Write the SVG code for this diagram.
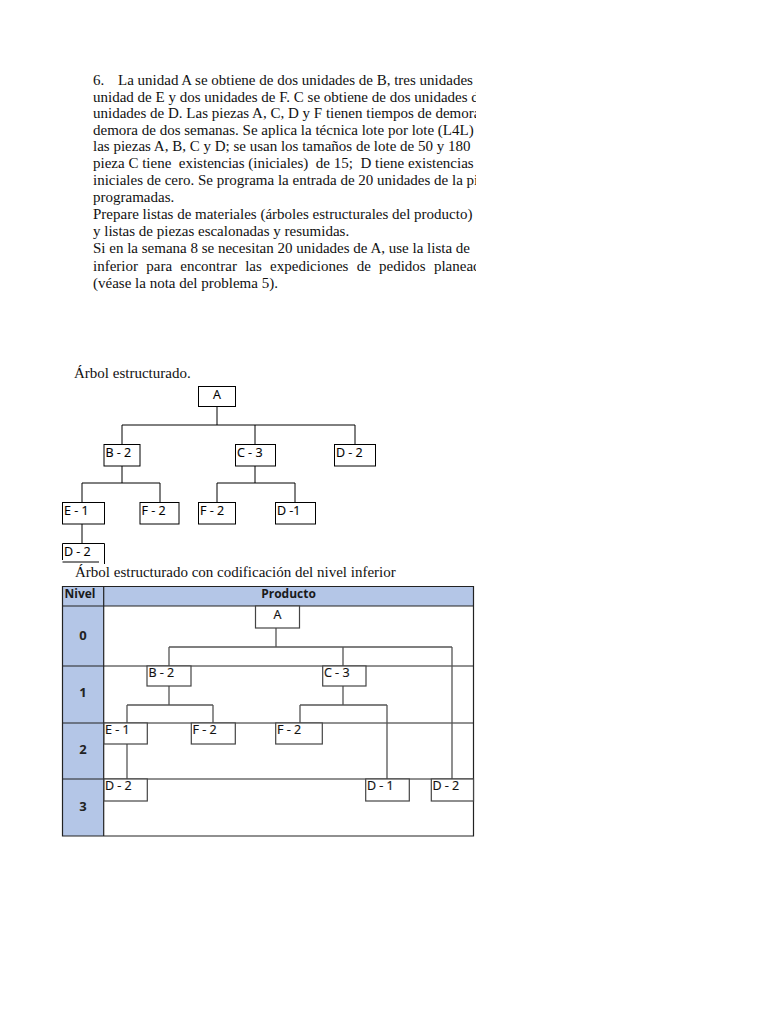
<svg xmlns="http://www.w3.org/2000/svg" width="768" height="1024" viewBox="0 0 768 1024">
<defs>
<clipPath id="clipText"><rect x="0" y="0" width="476" height="320"/></clipPath>
<style>
.p{font-family:"Liberation Serif","Times New Roman",serif;font-size:15px;fill:#111}
.lbl{font-family:"Open Sans","Liberation Sans",sans-serif;font-size:12.5px;fill:#000;stroke:#000;stroke-width:0.15}
.tl{font-family:"Open Sans","Liberation Sans",sans-serif;font-size:12.5px;fill:#111;stroke:#111;stroke-width:0.2}
.hd{font-family:"Open Sans","Liberation Sans",sans-serif;font-size:12px;font-weight:bold;fill:#1a1a1a}
.lv{font-family:"Open Sans","Liberation Sans",sans-serif;font-size:13px;font-weight:bold;fill:#222}
.box{fill:#fff;stroke:#000;stroke-width:1}
.tbox{fill:#fff;stroke:#444;stroke-width:1.2}
.ln{stroke:#000;stroke-width:1;fill:none}
.tln{stroke:#555;stroke-width:1.3;fill:none}
.grid{stroke:#222;stroke-width:1.2;fill:none}
</style>
</defs>
<rect width="768" height="1024" fill="#fff"/>

<g id="paragraph" clip-path="url(#clipText)">
<text class="p" x="93" y="85">6.</text>
<text class="p" x="118" y="85">La unidad A se obtiene de dos unidades de B, tres unidades de</text>
<text class="p" x="93" y="101.5">unidad de E y dos unidades de F. C se obtiene de dos unidades de</text>
<text class="p" x="93" y="118">unidades de D. Las piezas A, C, D y F tienen tiempos de demora</text>
<text class="p" x="93" y="134.5">demora de dos semanas. Se aplica la técnica lote por lote (L4L) a</text>
<text class="p" x="93" y="151">las piezas A, B, C y D; se usan los tamaños de lote de 50 y 180</text>
<text class="p" x="93" y="168" xml:space="preserve">pieza C tiene  existencias (iniciales)  de 15;  D tiene existencias</text>
<text class="p" x="93" y="185">iniciales de cero. Se programa la entrada de 20 unidades de la pieza</text>
<text class="p" x="93" y="201.5">programadas.</text>
<text class="p" x="93" y="219">Prepare listas de materiales (árboles estructurales del producto)</text>
<text class="p" x="93" y="236">y listas de piezas escalonadas y resumidas.</text>
<text class="p" x="93" y="253">Si en la semana 8 se necesitan 20 unidades de A, use la lista de</text>
<text class="p" x="93" y="270.5" word-spacing="4.5">inferior para encontrar las expediciones de pedidos planeadas</text>
<text class="p" x="93" y="288">(véase la nota del problema 5).</text>
</g>

<text class="p" x="74" y="378">Árbol estructurado.</text>

<g id="tree1-connectors">
<path class="ln" d="M217,407V425M122,425H355M122,425V444M255,425V444M355,425V444"/>
<path class="ln" d="M122,466V483M82,483H160M82,483V502M160,483V502"/>
<path class="ln" d="M255,466V483M217,483H295M217,483V502M295,483V502"/>
<path class="ln" d="M82,524V543"/>
</g>

<g id="t1-A"><rect class="box" x="198.5" y="386.5" width="37" height="20"/><text class="lbl" x="217" y="398.5" text-anchor="middle">A</text></g>
<g id="t1-B2"><rect class="box" x="104" y="444.5" width="36" height="21.5"/><text class="lbl" x="105.5" y="456.5">B - 2</text></g>
<g id="t1-C3"><rect class="box" x="235.5" y="444.5" width="40" height="21.5"/><text class="lbl" x="237" y="456.5">C - 3</text></g>
<g id="t1-D2"><rect class="box" x="334.5" y="444.5" width="41" height="21.5"/><text class="lbl" x="336" y="456.5">D - 2</text></g>
<g id="t1-E1"><rect class="box" x="62.5" y="502.5" width="42" height="21.5"/><text class="lbl" x="64" y="514.5">E - 1</text></g>
<g id="t1-F2a"><rect class="box" x="140" y="502.5" width="39" height="21.5"/><text class="lbl" x="141.5" y="514.5">F - 2</text></g>
<g id="t1-F2b"><rect class="box" x="198.5" y="502.5" width="37" height="21.5"/><text class="lbl" x="200" y="514.5">F - 2</text></g>
<g id="t1-D1"><rect class="box" x="275.5" y="502.5" width="40" height="21.5"/><text class="lbl" x="277" y="514.5">D -1</text></g>
<g id="t1-D2b"><path class="ln" d="M62.5,543.5H104.5V564M62.5,543.5V560M62.5,562H99"/><text class="lbl" x="64" y="555.5">D - 2</text></g>

<text class="p" x="75" y="577">Árbol estructurado con codificación del nivel inferior</text>

<g id="table">
<rect x="62.5" y="586.5" width="411" height="19.5" fill="#b4c6e7"/>
<rect x="62.5" y="606" width="41.2" height="230" fill="#b4c6e7"/>
<path class="grid" d="M62.5,586.5H473.5V836H62.5Z M103.7,586.5V836 M62.5,606H473.5 M62.5,666H473.5 M62.5,723H473.5 M62.5,779H473.5"/>
<text class="hd" x="64.5" y="597.5">Nivel</text>
<text class="hd" x="288.5" y="597.5" text-anchor="middle">Producto</text>
<text class="lv" x="83" y="640" text-anchor="middle">0</text>
<text class="lv" x="83" y="697" text-anchor="middle">1</text>
<text class="lv" x="83" y="754" text-anchor="middle">2</text>
<text class="lv" x="83" y="811" text-anchor="middle">3</text>
</g>

<g id="tree2-connectors">
<path class="tln" d="M276,628V647M169,647H452M169,647V666M343,647V666M452,647V779"/>
<path class="tln" d="M169,686V705M127,705H213M127,705V723M213,705V723"/>
<path class="tln" d="M343,686V705M300,705H387M300,705V723M387,705V779"/>
<path class="tln" d="M127,744V779"/>
</g>

<g id="t2-A"><rect class="tbox" x="255.5" y="606" width="44" height="22"/><text class="tl" x="277.5" y="619" text-anchor="middle">A</text></g>
<g id="t2-B2"><rect class="tbox" x="147" y="666" width="44" height="20"/><text class="tl" x="148.5" y="677">B - 2</text></g>
<g id="t2-C3"><rect class="tbox" x="322.7" y="666" width="43.3" height="20"/><text class="tl" x="324" y="677">C - 3</text></g>
<g id="t2-E1"><rect class="tbox" x="104" y="723" width="43.3" height="21"/><text class="tl" x="105" y="734">E - 1</text></g>
<g id="t2-F2a"><rect class="tbox" x="191.3" y="723" width="44" height="21"/><text class="tl" x="192.5" y="734">F - 2</text></g>
<g id="t2-F2b"><rect class="tbox" x="275.7" y="723" width="46.6" height="21"/><text class="tl" x="277" y="734">F - 2</text></g>
<g id="t2-D2a"><rect class="tbox" x="104" y="779" width="43.3" height="22"/><text class="tl" x="105" y="790">D - 2</text></g>
<g id="t2-D1"><rect class="tbox" x="365.7" y="779" width="43.6" height="22"/><text class="tl" x="367" y="790">D - 1</text></g>
<g id="t2-D2b"><rect class="tbox" x="431.3" y="779" width="42.2" height="22"/><text class="tl" x="432.5" y="790">D - 2</text></g>
</svg>
